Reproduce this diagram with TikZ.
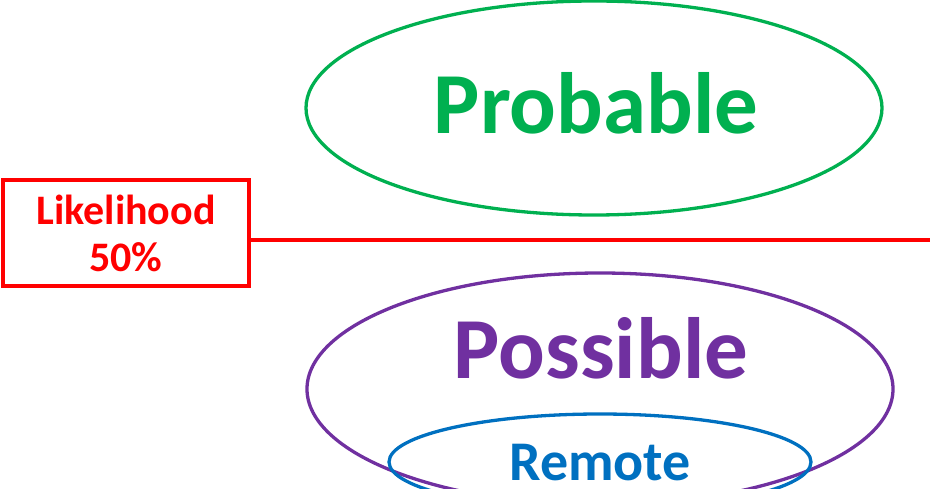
\documentclass[tikz,border=0pt]{standalone}
\usepackage{fontspec}
\setmainfont{Carlito}
\definecolor{pgreen}{RGB}{0,176,80}
\definecolor{ppurple}{RGB}{112,48,160}
\definecolor{pblue}{RGB}{0,112,192}
\definecolor{pred}{RGB}{255,0,0}
\begin{document}
\begin{tikzpicture}[x=1pt,y=-1pt,
  lbl/.style={font=\bfseries, inner sep=0pt}]
\useasboundingbox (0,0) rectangle (930,489);
\begin{scope}
\clip (0,0) rectangle (930,489);
\draw[pgreen,line width=3.3pt] (594,108) ellipse [x radius=288, y radius=107];
\draw[ppurple,line width=3.3pt] (600,389) ellipse [x radius=293, y radius=116];
\draw[pblue,line width=3.3pt] (600,462) ellipse [x radius=211, y radius=48];
\end{scope}
\node[lbl,text=pgreen,font=\fontsize{87}{95}\bfseries\selectfont] (prob) at (596,103) {Probable};
\node[lbl,text=ppurple,font=\fontsize{87}{95}\bfseries\selectfont] (poss) at (601,348) {Possible};
\node[lbl,text=pblue,font=\fontsize{56}{60}\bfseries\selectfont] (rem) at (600,463) {Remote};
\node[draw=pred,line width=3.3pt,minimum width=246pt,minimum height=106pt,inner sep=0pt,
  text=pred,align=center,font=\fontsize{42}{47}\bfseries\selectfont] (lk) at (126,233) {Likelihood\\50\%};
\coordinate (re) at (930,240);
\draw[pred,line width=3.3pt] (lk.east |- re) -- (re);
\end{tikzpicture}
\end{document}
